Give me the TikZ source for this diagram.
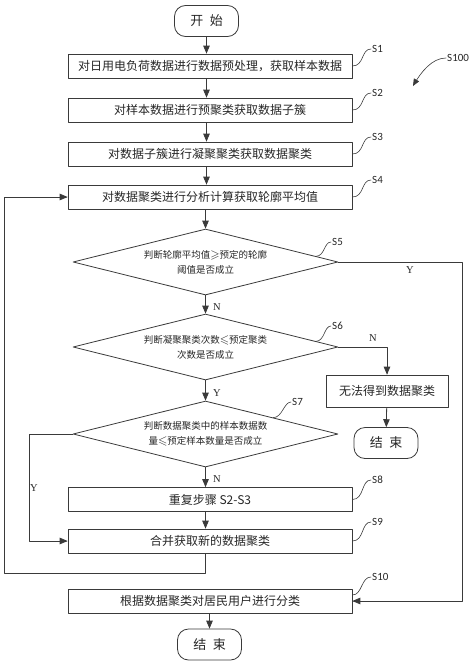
\documentclass[tikz,border=0pt]{standalone}
\usepackage{amssymb}
\usepackage{fontspec}
\setmainfont{Noto Sans CJK SC}
\newfontfamily\labfont{Carlito}
\newfontfamily\ynfont{Liberation Serif}
\usetikzlibrary{arrows,shapes.geometric,calc}
\definecolor{lncol}{HTML}{3A3A3A}
\newcommand{\geqs}{{\fontsize{12}{12}\selectfont$\geqslant$}}
\newcommand{\leqs}{{\fontsize{12}{12}\selectfont$\leqslant$}}

\begin{document}
\begin{tikzpicture}[line cap=round,line join=round,>=triangle 45,x=1pt,y=-1pt,
  box/.style={draw=lncol,line width=0.8pt,minimum width=284pt,minimum height=24pt,inner sep=0pt,text=black!85,font=\fontsize{12}{14}\selectfont},
  term/.style={draw=lncol,line width=0.8pt,rounded corners=11pt,minimum width=64pt,minimum height=31pt,inner sep=0pt,text=black!85,font=\fontsize{13}{15}\selectfont},
  cond/.style={draw=lncol,line width=0.8pt,diamond,aspect=4,minimum width=265pt,minimum height=66pt,inner sep=0pt,align=center,text=black!85,font=\fontsize{9.5}{15}\selectfont},
  flow/.style={draw=lncol,line width=0.8pt,->},
  lead/.style={draw=lncol,line width=0.6pt},
  tag/.style={anchor=west,inner sep=1pt,text=black!85,font=\labfont\fontsize{11}{12}\selectfont},
  yn/.style={inner sep=0pt,text=black!85,font=\ynfont\fontsize{10.5}{11}\selectfont}]
\useasboundingbox (0,0) rectangle (474,664);
% main column
\node[term] (start) at (206.5,21) {开\hspace{.5em}始};
\node[box] (s1) at (210,66) {对日用电负荷数据进行数据预处理，获取样本数据};
\node[box] (s2) at (210,110) {对样本数据进行预聚类获取数据子簇};
\node[box] (s3) at (210,154) {对数据子簇进行凝聚聚类获取数据聚类};
\node[box] (s4) at (210,197) {对数据聚类进行分析计算获取轮廓平均值};
\node[cond] (d5) at (205.5,262) {判断轮廓平均值\geqs 预定的轮廓\\阈值是否成立};
\node[cond] (d6) at (205.5,347) {判断凝聚聚类次数\leqs 预定聚类\\次数是否成立};
\node[cond] (d7) at (205.5,434) {判断数据聚类中的样本数据数\\量\leqs 预定样本数量是否成立};
\node[box] (s8) at (210,499.5) {重复步骤 S2-S3};
\node[box] (s9) at (210,541) {合并获取新的数据聚类};
\node[box] (s10) at (210,601) {根据数据聚类对居民用户进行分类};
\node[term] (end2) at (209.5,644.5) {结\hspace{.5em}束};
% side branch
\node[box,minimum width=122pt,minimum height=32pt] (nodata) at (387,391) {无法得到数据聚类};
\node[term] (end1) at (386,443) {结\hspace{.5em}束};
\coordinate (yr) at (462,262);
\coordinate (yl) at (29,434);
\coordinate (lp) at (4,573);
% connectors
\draw[flow] (start) -- (start |- s1.north);
\draw[flow] (start |- s1.south) -- (start |- s2.north);
\draw[flow] (start |- s2.south) -- (start |- s3.north);
\draw[flow] (start |- s3.south) -- (start |- s4.north);
\draw[flow] (d5.north |- s4.south) -- (d5.north);
\draw[flow] (d5.south) -- (d6.north);
\draw[flow] (d6.south) -- (d7.north);
\draw[flow] (d7.south) -- (d7.south |- s8.north);
\draw[flow] (d7.south |- s8.south) -- (d7.south |- s9.north);
\draw[flow] (s10.south -| end2) -- (end2);
\draw[flow] (d6.east) -| (nodata.north);
\draw[flow] (nodata) -- (end1);
\draw[flow] (d5.east) -- (yr) |- (s10.east);
\draw[flow] (d7.west) -- (yl) |- (s9.west);
\draw[flow] (s9.south -| d7.south) |- (lp) |- (s4.west);
% Y / N
\node[yn] (n5) at (217,307) {N};
\node[yn] (y5) at (410,270) {Y};
\node[yn] (n6) at (373,338) {N};
\node[yn] (y6) at (217,393) {Y};
\node[yn] (n7) at (217,479) {N};
\node[yn] (y7) at (34,488) {Y};
% step tags
\node[tag] (l1) at (371,49) {S1};
\node[tag] (l2) at (371,93) {S2};
\node[tag] (l3) at (371,137) {S3};
\node[tag] (l4) at (371,180) {S4};
\node[tag] (l5) at (331,242) {S5};
\node[tag] (l6) at (331,326) {S6};
\node[tag] (l7) at (291,402) {S7};
\node[tag] (l8) at (371,480) {S8};
\node[tag] (l9) at (371,522) {S9};
\node[tag] (l10) at (371,577) {S10};
\node[tag] (l100) at (446,58) {S100};
\coordinate (p100) at (413,86);
\draw[lead] (s1.east) .. controls +(12,0) and +(-10,0) .. (l1.west);
\draw[lead] (s2.east) .. controls +(12,0) and +(-10,0) .. (l2.west);
\draw[lead] (s3.east) .. controls +(12,0) and +(-10,0) .. (l3.west);
\draw[lead] (s4.east) .. controls +(12,0) and +(-10,0) .. (l4.west);
\draw[lead] ($(d5.north)!0.83!(d5.east)$) .. controls +(9,0) and +(-7,0) .. (l5.west);
\draw[lead] ($(d6.north)!0.83!(d6.east)$) .. controls +(9,0) and +(-7,0) .. (l6.west);
\draw[lead] ($(d7.north)!0.51!(d7.east)$) .. controls +(9,0) and +(-7,0) .. (l7.west);
\draw[lead] (s8.east) .. controls +(12,0) and +(-10,0) .. (l8.west);
\draw[lead] (s9.east) .. controls +(12,0) and +(-10,0) .. (l9.west);
\draw[lead] ($(s10.east)+(0,-6)$) .. controls +(10,0) and +(-10,0) .. (l10.west);
\draw[lead,->] (l100.west) .. controls +(-14,0) and +(8,-14) .. (p100);
\end{tikzpicture}
\end{document}
